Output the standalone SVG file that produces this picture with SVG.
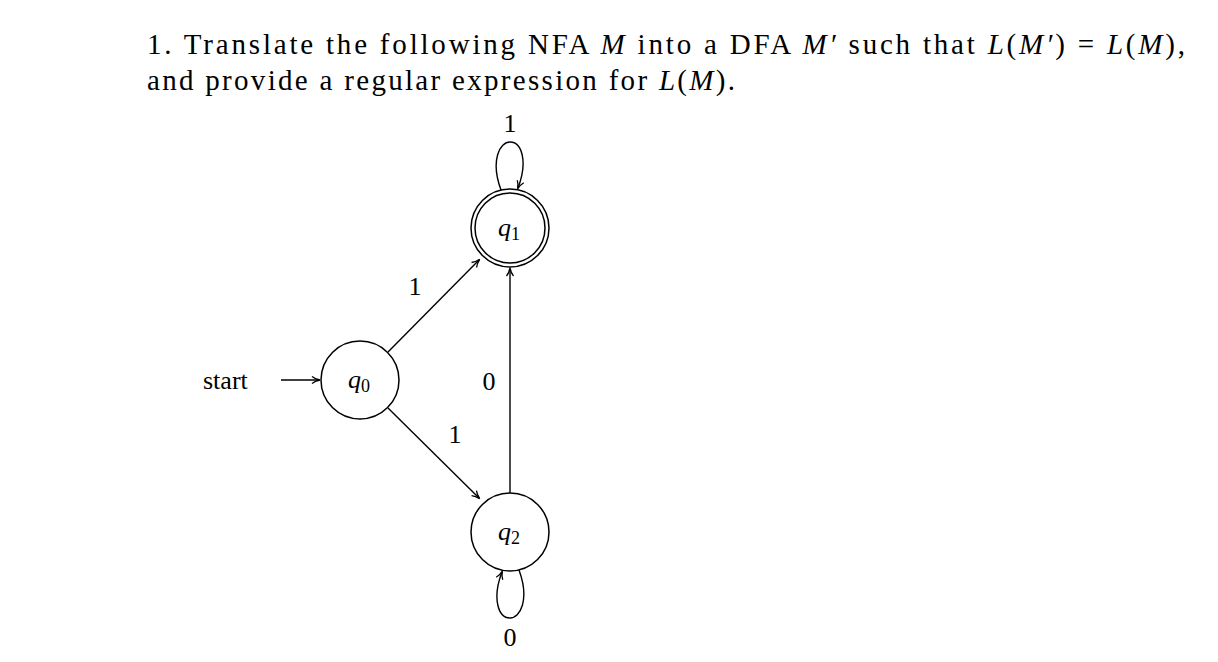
<svg xmlns="http://www.w3.org/2000/svg" width="1218" height="662" viewBox="0 0 1218 662">
<style>
text{font-family:"Liberation Serif","DejaVu Serif",serif;fill:#000}
.t{font-size:29px}
.l{font-size:26px}
.i{font-style:italic}
.s{fill:#fff;stroke:#000;stroke-width:1.5}
.e{fill:none;stroke:#000;stroke-width:1.4;marker-end:url(#a)}
</style>
<defs><marker id="a" markerWidth="10" markerHeight="10" refX="8" refY="5" orient="auto" markerUnits="userSpaceOnUse"><path d="M1,1.5 Q4,4 9,5 Q4,6 1,8.5" fill="none" stroke="#000" stroke-width="1.3"/></marker></defs>
<rect width="1218" height="662" fill="#fff"/>
<text class="t" x="147" y="54" textLength="1038" lengthAdjust="spacing">1. Translate the following NFA <tspan class="i">M</tspan> into a DFA <tspan class="i">M′</tspan> such that <tspan class="i">L</tspan>(<tspan class="i">M′</tspan>) = <tspan class="i">L</tspan>(<tspan class="i">M</tspan>),</text>
<text class="t" x="147" y="90" textLength="588" lengthAdjust="spacing">and provide a regular expression for <tspan class="i">L</tspan>(<tspan class="i">M</tspan>).</text>
<g id="connectors">
<path class="e" d="M281,380 L319,380"/>
<path class="e" d="M388,352 L479,260"/>
<path class="e" d="M388,408 L479,498"/>
<path class="e" d="M510,493 L510,269"/>
<path class="e" d="M501,190 C490,160 500,142 510,142 C522,142 528,162 518,188"/>
<path class="e" d="M519,570 C530,600 520,618 510,618 C498,618 492,598 502,572"/>
<text class="l" x="510" y="132" text-anchor="middle">1</text>
<text class="l" x="415" y="295" text-anchor="middle">1</text>
<text class="l" x="455" y="443" text-anchor="middle">1</text>
<text class="l" x="489" y="390" text-anchor="middle">0</text>
<text class="l" x="510" y="646" text-anchor="middle">0</text>
</g>
<g id="start"><text class="l" x="203" y="389">start</text></g>
<g id="q0"><circle class="s" cx="360" cy="380" r="39"/><text class="l i" x="348" y="388">q<tspan font-size="18" font-style="normal" dy="4">0</tspan></text></g>
<g id="q1"><circle class="s" cx="510" cy="228" r="39"/><circle class="s" cx="510" cy="228" r="35"/><text class="l i" x="498" y="236">q<tspan font-size="18" font-style="normal" dy="4">1</tspan></text></g>
<g id="q2"><circle class="s" cx="510" cy="532" r="39"/><text class="l i" x="498" y="540">q<tspan font-size="18" font-style="normal" dy="4">2</tspan></text></g>
</svg>
